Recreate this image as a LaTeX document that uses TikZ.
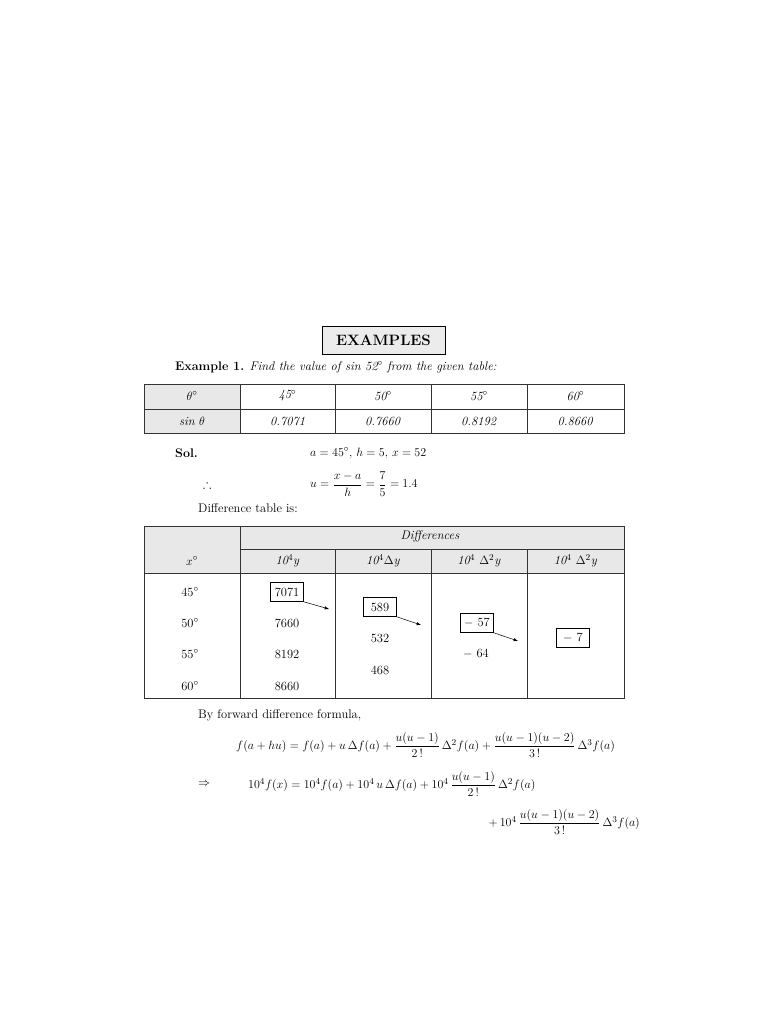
\documentclass[tikz,border=0pt]{standalone}
\usepackage{amsmath,amssymb}
\begin{document}
\begin{tikzpicture}[x=1pt,y=-1pt,font=\fontsize{12.5}{15}\selectfont,
  cell/.style={fill=gray!18},
  grid/.style={draw=black!80,line width=0.8pt},
  vbox/.style={draw,line width=0.6pt,inner sep=3pt,minimum width=33pt,minimum height=19pt},
  txt/.style={anchor=west,inner sep=0pt},
  arr/.style={-latex,line width=0.5pt}]
\useasboundingbox (0,0) rectangle (768,1024);
% title
\node[draw,line width=0.8pt,fill=gray!15,minimum width=123pt,minimum height=28pt,font=\fontsize{15}{17}\selectfont\bfseries] (title) at (383.5,340) {EXAMPLES};
\node[txt] (ex) at (175,367) {\textbf{Example 1.} \textit{Find the value of sin 52$^\circ$ from the given table:}};
% table 1
\fill[cell] (144,384) rectangle (240,433);
\draw[grid] (144,384) rectangle (624,433);
\draw[grid] (144,409) -- (624,409);
\foreach \x in {240,335,431,527} \draw[grid] (\x,384) -- (\x,433);
\node (t0) at (192,396) {$\theta^\circ$};
\node (t1) at (192,421) {\textit{sin} $\theta$};
\foreach \c/\a/\b [count=\i] in {287.5/45/0.7071,383/50/0.7660,479/55/0.8192,575.5/60/0.8660}{
  \node (ta\i) at (\c,396) {\textit{\a$^\circ$}};
  \node (tb\i) at (\c,421) {\textit{\b}};
}
% solution
\node[txt] (sol) at (175,453) {\textbf{Sol.}};
\node[txt] (eq1) at (310,453) {$a = 45^\circ,\, h = 5,\, x = 52$};
\node[txt] (th) at (203,484) {$\therefore$};
\node[txt] (eq2) at (310,484) {$u = \dfrac{x-a}{h} = \dfrac{7}{5} = 1.4$};
\node[txt] (dt) at (198,508) {Difference table is:};
% table 2
\fill[cell] (144,526) rectangle (624,573);
\draw[grid] (144,526) rectangle (624,698);
\draw[grid] (240,549) -- (624,549);
\draw[grid] (144,573) -- (624,573);
\draw[grid] (240,526) -- (240,698);
\foreach \x in {335,431,527} \draw[grid] (\x,549) -- (\x,698);
\node (dh) at (430,536) {\textit{Differences}};
\node (hx) at (192,561) {$x^\circ$};
\node (h1) at (287.5,561) {\textit{10$^4$y}};
\node (h2) at (383,561) {\textit{10$^4\Delta$y}};
\node (h3) at (479,561) {\textit{10$^4$ $\Delta^2$y}};
\node (h4) at (575.5,561) {\textit{10$^4$ $\Delta^2$y}};
\foreach \y/\v [count=\i] in {592/45,623/50,654/55,686/60} \node (x\i) at (190,\y) {\v$^\circ$};
\node[vbox] (y1) at (287,592) {7071};
\node (y2) at (287,623) {7660};
\node (y3) at (287,654) {8192};
\node (y4) at (287,686) {8660};
\node[vbox] (d1) at (380,607) {589};
\node (d2) at (380,638) {532};
\node (d3) at (380,670) {468};
\node[vbox] (e1) at (477,623) {$-$ 57};
\node (e2) at (476,654) {$-$ 64};
\node[vbox] (f1) at (573,638) {$-$ 7};
\coordinate (a1) at (329,609);
\coordinate (a2) at (421,625);
\coordinate (a3) at (518,641);
\draw[arr] (y1.south east) -- (a1);
\draw[arr] (d1.south east) -- (a2);
\draw[arr] (e1.south east) -- (a3);
% formulas
\node[txt] (bf) at (198,715) {By forward difference formula,};
\node[txt] (fm1) at (236,745) {$f(a+hu) = f(a) + u\,\Delta f(a) + \dfrac{u(u-1)}{2\,!}\,\Delta^2 f(a) + \dfrac{u(u-1)(u-2)}{3\,!}\,\Delta^3 f(a)$};
\node[txt] (imp) at (198,784) {$\Rightarrow$};
\node[txt] (fm2) at (248,784) {$10^4 f(x) = 10^4 f(a) + 10^4\, u\,\Delta f(a) + 10^4\,\dfrac{u(u-1)}{2\,!}\,\Delta^2 f(a)$};
\node[anchor=east,inner sep=0pt] (fm3) at (640,822) {$+\,10^4\,\dfrac{u(u-1)(u-2)}{3\,!}\,\Delta^3 f(a)$};
\end{tikzpicture}
\end{document}
